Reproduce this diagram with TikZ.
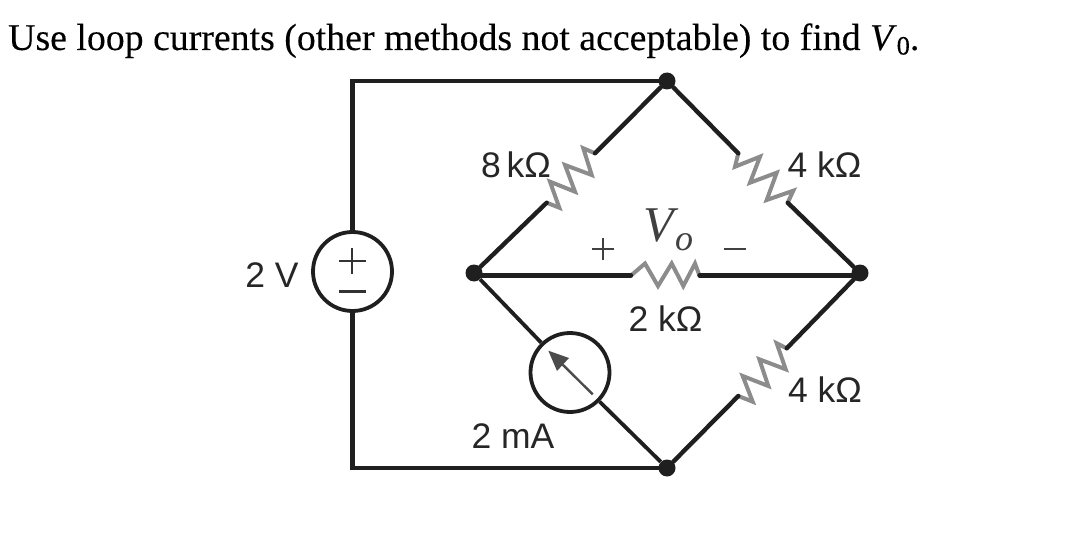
\documentclass[tikz,border=0pt]{standalone}
\usepackage{fontspec}
\setmainfont[FakeBold=0.2]{Liberation Serif}
\newfontfamily\lblfont{Liberation Sans}
\newfontfamily\vofont{Liberation Serif}
\tikzset{
  x=1pt,y=-1pt,
  wire/.style={line width=4.4pt,draw=black!88,line cap=round},
  thinwire/.style={line width=3.8pt,draw=black!88},
  res/.style={line width=4pt,draw=black!45,line join=miter},
  dotnode/.style={circle,fill=black!88,inner sep=0pt,minimum size=17pt},
  srcnode/.style={circle,draw=black!88,line width=3.8pt,fill=none,inner sep=0pt,minimum size=79pt},
  lbl/.style={font=\lblfont\fontsize{35.5}{40}\selectfont,text=black!85,inner sep=0pt},
  sym/.style={line width=1.5pt,draw=black!75},
  srcsym/.style={line width=2.4pt,draw=black!80},
  vlbl/.style={text=black!75,inner sep=0pt}
}
\begin{document}
\begin{tikzpicture}
\useasboundingbox (0,0) rectangle (1070,548);
% title
\node[anchor=base west,inner sep=0pt,font=\fontsize{37.8}{44}\selectfont,text=black] (title) at (8,50) {Use loop currents (other methods not acceptable) to find \textit{V}\raisebox{-0.12em}{\fontsize{26.5}{30}\selectfont 0}.};
% junctions
\node[dotnode] (top) at (667,81) {};
\node[dotnode] (left) at (474,273) {};
\node[dotnode] (right) at (860,273) {};
\node[dotnode] (bot) at (667,468) {};
% sources
\node[srcnode] (vs) at (352.5,271.5) {};
\node[srcnode] (is) at (570,372.5) {};
% resistor terminals
\coordinate (r1a) at (595,153.3);
\coordinate (r1b) at (546.7,202.7);
\coordinate (r2a) at (738.3,153.3);
\coordinate (r2b) at (787.7,202.7);
\coordinate (r3a) at (631,275.5);
\coordinate (r3b) at (699.5,275.5);
\coordinate (r4a) at (786.7,348.3);
\coordinate (r4b) at (738.3,396);
% resistors
\draw[res] (r1a) -- (583.3,148.3) -- (591.7,175) -- (565,165) -- (575,191.7) -- (550,181.7) -- (559.3,207.7) -- (r1b);
\draw[res] (r2a) -- (735,166.7) -- (760,156.7) -- (750,182.7) -- (776.7,172.7) -- (766.7,200) -- (793.3,190.7) -- (r2b);
\draw[res] (r3a) -- (645,263.5) -- (658,286) -- (671.7,263.5) -- (683.3,286) -- (695,263.5) -- (r3b);
\draw[res] (r4a) -- (776.7,343.3) -- (785.7,369.3) -- (759.3,359.3) -- (768.3,386) -- (742.7,376) -- (752.7,401.7) -- (r4b);
% wires
\draw[wire] (top) -| (vs.north);
\draw[wire] (vs.south) |- (bot);
\draw[wire] (top) -- (r1a);
\draw[wire] (r1b) -- (left);
\draw[wire] (top) -- (r2a);
\draw[wire] (r2b) -- (right);
\draw[wire] (left |- r3a) -- (r3a);
\draw[wire] (r3b) -- (right |- r3b);
\draw[wire] (right) -- (r4a);
\draw[wire] (r4b) -- (bot);
\draw[thinwire] (left) -- (is);
\draw[thinwire] (is) -- (bot);
% source symbols
\draw[srcsym] (339,260.7) -- (365.5,260.7) (352.2,248) -- (352.2,274);
\draw[srcsym] (339,291.3) -- (365.5,291.3);
\coordinate (iarrA) at (592.7,394.3);
\coordinate (iarrB) at (548.3,350.7);
\draw[line width=2.4pt,draw=black!70] (iarrA) -- (560,362);
\fill[black!70] (iarrB) -- (569,358) -- (557,371) -- cycle;
% labels
\node[lbl] (l1) at (272,275) {2 V};
\node[lbl] (l2) at (513,436) {2 mA};
\node[lbl] (l3) at (516,165) {8\,kΩ};
\node[lbl] (l4) at (824.5,165) {4 kΩ};
\node[lbl] (l5) at (665.5,318.5) {2 kΩ};
\node[lbl] (l6) at (825,390) {4 kΩ};
\node[vlbl,font=\vofont\fontsize{50}{54}\selectfont\itshape] (v) at (659,226) {V};
\node[vlbl,font=\vofont\fontsize{36}{40}\selectfont\itshape] (o) at (684,242) {o};
\draw[sym] (592,249) -- (614,249) (603,238) -- (603,260);
\draw[sym] (724,249) -- (746,249);
\end{tikzpicture}
\end{document}
